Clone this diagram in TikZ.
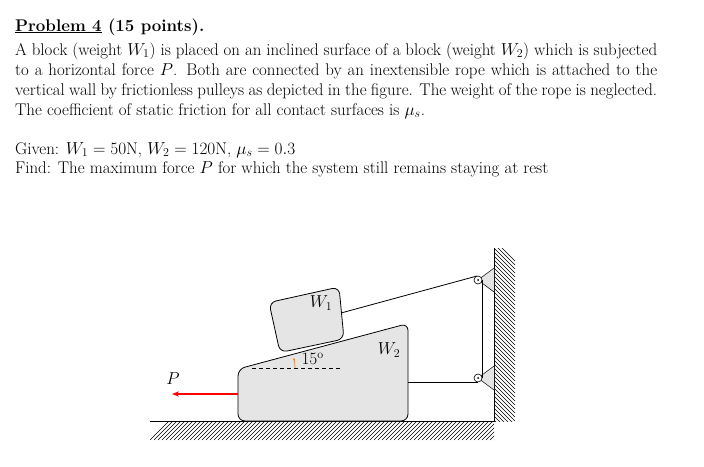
\documentclass[tikz,border=0pt]{standalone}
\usetikzlibrary{arrows.meta}
\begin{document}
\begin{tikzpicture}[x=1pt,y=-1pt,
  txt/.style={anchor=base west,inner sep=0pt,font=\fontsize{16.9}{20}\selectfont},
  lbl/.style={font=\fontsize{16.9}{20}\selectfont},
  blk/.style={draw,fill=gray!20,line width=0.8pt,rounded corners=7pt},
  rope/.style={line width=0.8pt},
  hl/.style={line width=0.5pt}]
\useasboundingbox (0,0) rectangle (704,466);
\node[txt] (t0) at (15,31) {\textbf{\underline{Problem 4} (15 points).}};
\node[txt] (t1) at (15,55) {\makebox[642pt][s]{A block (weight $W_1$) is placed on an inclined surface of a block (weight $W_2$) which is subjected}};
\node[txt] (t2) at (15,75) {\makebox[642pt][s]{to a horizontal force $P$. Both are connected by an inextensible rope which is attached to the}};
\node[txt] (t3) at (15,95) {\makebox[642pt][s]{vertical wall by frictionless pulleys as depicted in the figure. The weight of the rope is neglected.}};
\node[txt] (t4) at (15,115) {The coefficient of static friction for all contact surfaces is $\mu_s$.};
\node[txt] (t5) at (15,154) {Given: $W_1=50$N, $W_2=120$N, $\mu_s=0.3$};
\node[txt] (t6) at (15,173) {Find: The maximum force $P$ for which the system still remains staying at rest};
% ground and wall hatching
\begin{scope}
\clip (150,421) rectangle (494,440);
\foreach \i in {0,4,...,370} \draw[hl] (150+\i,440) -- (150+\i+19,421);
\end{scope}
\begin{scope}
\clip (494,248) rectangle (515,421);
\foreach \i in {0,4,...,200} \draw[hl] (494,240+\i) -- (515,240+\i+21);
\end{scope}
\draw[line width=0.8pt] (150,421) -- (494,421) -- (494,248);
% W2
\draw[blk] (238,421) -- (238,369) -- (408,323.5) -- (408,421) -- cycle;
\node[lbl] (w2) at (389,350) {$W_2$};
% W1
\draw[blk] (280,352.5) -- (344,339) -- (339,287) -- (269,302.5) -- cycle;
\node[lbl] (w1) at (321,303) {$W_1$};
% angle
\draw[dash pattern=on 4pt off 3pt,line width=0.6pt] (252,368) -- (340,368);
\draw[orange,-{Stealth[length=3pt]},line width=0.7pt] (295,368) arc[start angle=0,end angle=-15,radius=40];
\node[lbl,anchor=west] (ang) at (298,359) {$15^{\rm o}$};
% pulleys supports
\fill[gray!20] (478,280) -- (494,268) -- (494,292) -- cycle;
\draw[line width=0.5pt] (494,268) -- (478,280) -- (494,292);
\fill[gray!20] (478,378) -- (494,366) -- (494,390) -- cycle;
\draw[line width=0.5pt] (494,366) -- (478,378) -- (494,390);
\coordinate (p1) at (478,280);
\coordinate (p2) at (478,378);
% ropes
\draw[rope] (341,313) -- (477,276);
\draw[rope] (482,280) -- (482,378);
\draw[rope] (408,382) -- (478,382);
\draw[fill=white,line width=0.6pt] (p1) circle (4);
\fill (p1) circle (1);
\draw[fill=white,line width=0.6pt] (p2) circle (4);
\fill (p2) circle (1);
% force P
\coordinate (pe) at (172,394);
\draw[red,line width=1.4pt,-{Stealth[length=7pt]}] (238,394) -- (pe);
\node[lbl] (P) at (173,379) {$P$};
\end{tikzpicture}
\end{document}
